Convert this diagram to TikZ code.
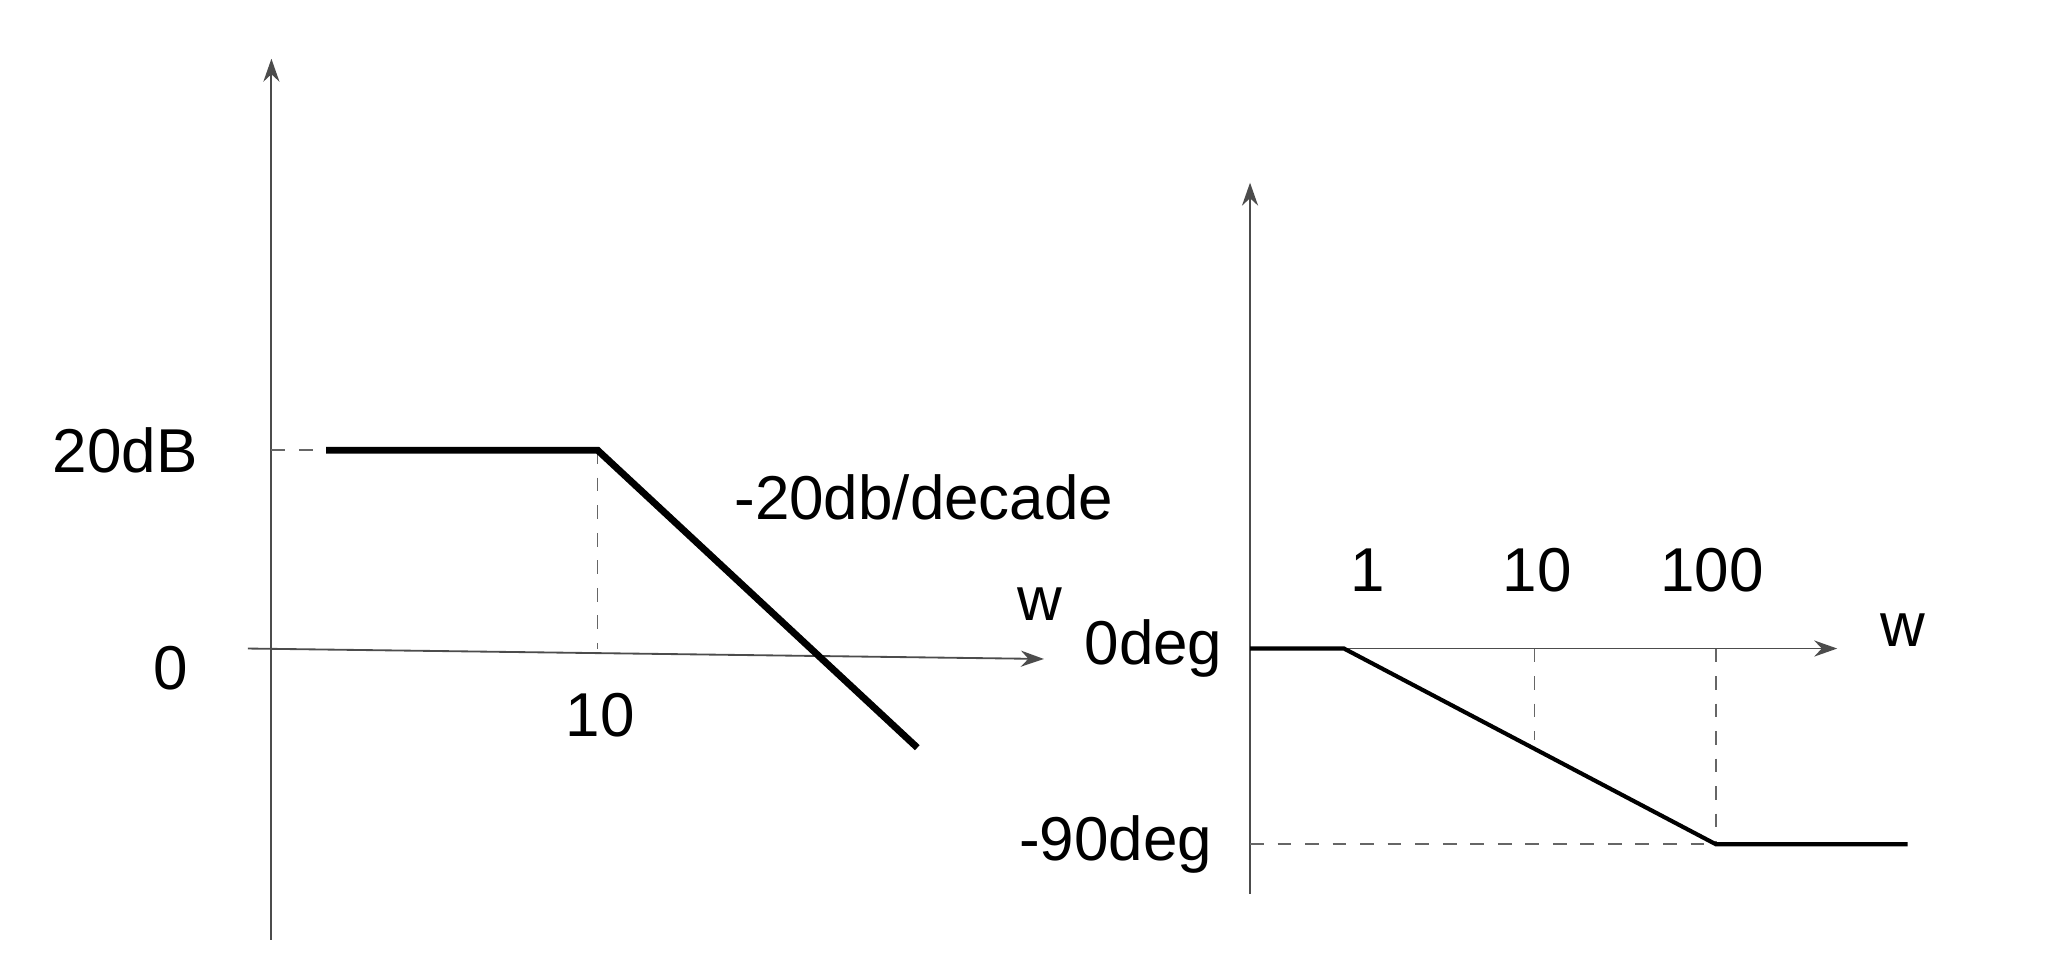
\documentclass[tikz,border=0pt]{standalone}
\usepackage{fontspec}
\setmainfont{Liberation Sans}
\usetikzlibrary{arrows.meta}
\begin{document}
\begin{tikzpicture}[x=0.01cm,y=-0.01cm,
 ax/.style={draw=black!70,line width=0.4pt,-{Stealth[length=5pt,width=3.5pt]}},
 dsh/.style={draw=black!60,dashed,line width=0.35pt},
 lbl/.style={font=\fontsize{13.5}{15}\selectfont}]
\useasboundingbox (0,0) rectangle (1568,750);
% left plot
\coordinate (lb) at (208,720); \coordinate (lt) at (208,45);
\coordinate (ll) at (190,497); \coordinate (lr) at (800,505);
\draw[ax] (lb) -- (lt);
\draw[ax] (ll) -- (lr);
\coordinate (p0) at (208,345); \coordinate (p1) at (250,345);
\coordinate (p2) at (458,345); \coordinate (p3) at (703,573);
\coordinate (p2b) at (458,497);
\draw[dsh] (p0) -- (p1);
\draw[dsh] (p2) -- (p2b);
\draw[line width=1.5pt] (p1) -- (p2) -- (p3);
\node[lbl] (a20) at (96,345) {20dB};
\node[lbl] (a0) at (131,512) {0};
\node[lbl] (a10) at (460,548) {10};
\node[lbl] (slope) at (708,381) {-20db/decade};
\node[lbl] (w1) at (797,463) {w};
% right plot
\coordinate (rb) at (958,685); \coordinate (rt) at (958,140);
\coordinate (rl) at (958,497); \coordinate (rr) at (1408,497);
\draw[ax] (rb) -- (rt);
\draw[ax] (rl) -- (rr);
\coordinate (q1) at (1030,497); \coordinate (q2) at (1315,647);
\coordinate (q3) at (1462,647); \coordinate (q0) at (958,647);
\coordinate (d10t) at (1176,497); \coordinate (d10b) at (1176,567);
\coordinate (d100t) at (1315,497);
\draw[dsh] (d10t) -- (d10b);
\draw[dsh] (d100t) -- (q2);
\draw[dsh] (q0) -- (q2);
\draw[line width=0.9pt] (rl) -- (q1) -- (q2) -- (q3);
\node[lbl] (b0) at (884,497) {0deg};
\node[lbl] (b90) at (855,647) {-90deg};
\node[lbl] (b1) at (1048,437) {1};
\node[lbl] (b10) at (1178,437) {10};
\node[lbl] (b100) at (1312,437) {100};
\node[lbl] (w2) at (1458,483) {w};
\end{tikzpicture}
\end{document}
